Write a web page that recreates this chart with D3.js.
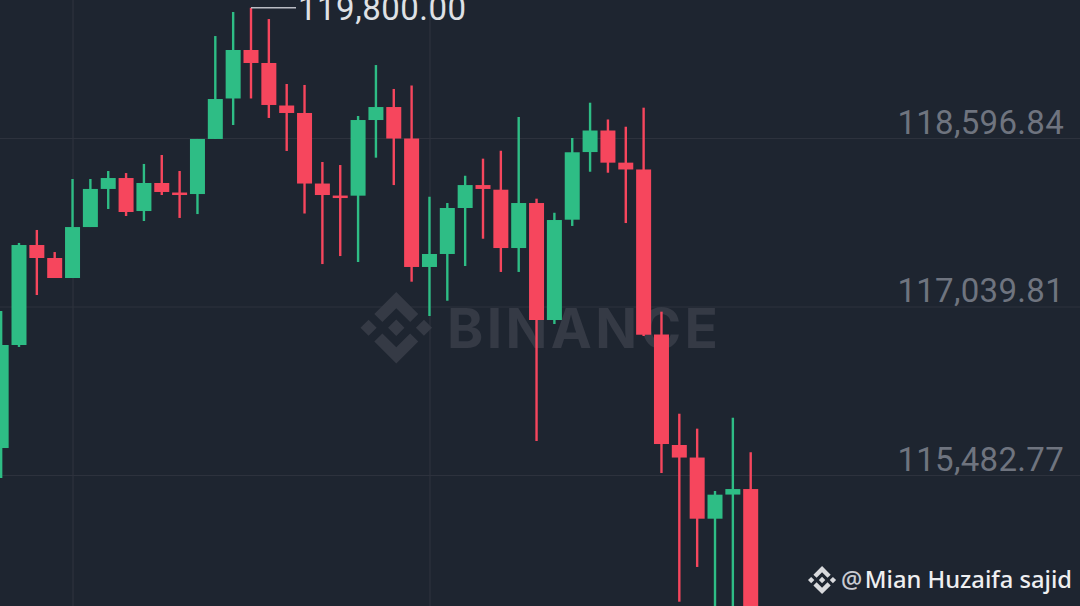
<!DOCTYPE html>
<html>
<head>
<meta charset="utf-8">
<script src="https://cdn.jsdelivr.net/npm/d3@7/dist/d3.min.js"></script>
<style>
html,body{margin:0;padding:0;background:#1e2530;overflow:hidden}
svg{display:block}
</style>
</head>
<body>
<svg id="chart" width="1080" height="606"></svg>
<script>
// candle values, left to right (the first one is cut by the left edge, the last ones by the bottom edge)
const opens  = [115732,116684,117608,117488,117303,117774,118126,118227,117922,118181,118093,118079,118588,118962,119410,119290,118897,118828,118176,118065,118064,118763,118883,118592,117405,117525,117950,118162,118119,117580,117996,116915,117842,118467,118666,118369,118306,116781,115760,115644,115079,115302,115353];
const highs  = [116998,117627,117747,117543,118218,118218,118292,118273,118357,118440,118292,118588,119539,119761,119800,119696,119096,119087,118375,118347,118800,119271,119050,119082,118054,117996,118248,118406,118479,118791,118036,117906,118597,118923,118768,118701,118877,116992,116049,115911,115335,116012,115693];
const lows   = [115455,116666,117146,117303,117303,117774,117941,117876,117830,118070,117858,117894,118588,118717,118962,118782,118477,117899,117432,117506,117451,118415,118162,117269,116952,117093,117414,117666,117359,117359,115797,116878,117784,118285,118276,117811,116767,115501,114312,114633,114100,114100,113900];
const closes = [116684,117608,117488,117303,117774,118126,118227,117913,118181,118098,118070,118588,118957,119410,119290,118902,118828,118176,118070,118042,118763,118883,118592,117405,117525,117950,118162,118126,117580,117996,116915,117839,118465,118666,118369,118306,116779,115769,115644,115079,115301,115353,114000];
const candleIndex = opens.map((_, i) => i);
const priceTicks = [118596.84, 117039.81, 115482.77];
const timeTickCandles = [4, 24];
const peakPrice = 119800;
const peakCandle = 14;
const watermarkText = "BINANCE";
const creditHandle = "@";
const creditName = "Mian Huzaifa sajid";

const W = 1080, H = 606;
const bg = "#1e2530";
const upColor = "#2ebd85", downColor = "#f6465d", gridColor = "#2d323d";
const logoPath = "M38.73 53.2l24.59-24.58 24.6 24.6 14.3-14.31L63.32 0l-38.9 38.9zM0 63.31l14.3-14.31 14.31 14.31-14.31 14.3zM38.73 73.41l24.59 24.59 24.6-24.6 14.31 14.29-38.9 38.91-38.91-38.88-.02-.02zM98 63.31l14.3-14.31 14.31 14.3-14.31 14.32zM77.83 63.3L63.32 48.78 52.59 59.51l-1.24 1.23-2.54 2.54 14.51 14.5 14.51-14.47z";

const svg = d3.select("#chart");
svg.append("rect").attr("width", W).attr("height", H).attr("fill", bg);

const x = d3.scaleLinear().domain([0, opens.length - 1]).range([1.15, 750.7]);
const y = d3.scaleLinear().domain([115482.77, 118596.84]).range([475, 138]);

// vertical grid
const gx = svg.append("g").attr("transform", `translate(0,${H})`)
  .call(d3.axisTop(x).tickValues(timeTickCandles).tickSize(H).tickFormat(""));
gx.select(".domain").remove();
gx.selectAll("line").attr("stroke", gridColor).attr("stroke-width", 1.2);

// horizontal grid + price labels
const gy = svg.append("g")
  .call(d3.axisRight(y).tickValues(priceTicks).tickSize(W).tickFormat(d3.format(",.2f")));
gy.select(".domain").remove();
gy.selectAll("line").attr("stroke", gridColor).attr("stroke-width", 1.2);
gy.selectAll("text")
  .attr("x", 1064).attr("dy", 0).attr("y", -5)
  .attr("text-anchor", "end")
  .attr("fill", "#6f747f")
  .attr("font-family", "Roboto, sans-serif")
  .attr("font-weight", 400)
  .attr("letter-spacing", "0.3")
  .attr("font-size", 33);

// watermark
svg.append("path").attr("d", logoPath).attr("fill", "#353a45")
  .attr("transform", "translate(360.5,292) scale(0.565)");
svg.append("text").text(watermarkText)
  .attr("x", 447).attr("y", 348)
  .attr("textLength", 271).attr("lengthAdjust", "spacing")
  .attr("font-family", "Inter, sans-serif").attr("font-weight", 700)
  .attr("font-size", 55).attr("fill", "#353a45");

// candles
const candle = svg.append("g").selectAll("g").data(candleIndex).join("g");
const col = i => closes[i] >= opens[i] ? upColor : downColor;
candle.append("line")
  .attr("x1", i => x(i)).attr("x2", i => x(i))
  .attr("y1", i => y(highs[i])).attr("y2", i => y(lows[i]))
  .attr("stroke", col).attr("stroke-width", 2.4);
candle.append("rect")
  .attr("x", i => x(i) - 7.5).attr("width", 15)
  .attr("y", i => y(Math.max(opens[i], closes[i])))
  .attr("height", i => Math.abs(y(opens[i]) - y(closes[i])))
  .attr("fill", col);

// peak marker (its label sits against the top edge, as in the reference)
svg.append("line")
  .attr("x1", x(peakCandle)).attr("x2", 296)
  .attr("y1", y(peakPrice)).attr("y2", y(peakPrice))
  .attr("stroke", "#b9bcc3").attr("stroke-width", 1.5);
svg.append("text").text(d3.format(",.2f")(peakPrice))
  .attr("x", 298).attr("y", y(peakPrice) + 12)
  .attr("font-family", "Roboto, sans-serif").attr("font-weight", 400)
  .attr("letter-spacing", "0.5")
  .attr("font-size", 33).attr("fill", "#dfe1e5");

// credit
svg.append("path").attr("d", logoPath).attr("fill", "#d9dadd")
  .attr("transform", "translate(808,566) scale(0.222)");
const credit = svg.append("text")
  .attr("font-family", "'Noto Sans', sans-serif")
  .attr("font-size", 23.7).attr("font-weight", 500).attr("fill", "#eeeff1");
credit.append("tspan").text(creditHandle).attr("x", 841).attr("y", 588).attr("fill", "#c9cbd0");
credit.append("tspan").text(creditName).attr("x", 1072).attr("y", 588).attr("text-anchor", "end");
</script>
</body>
</html>
